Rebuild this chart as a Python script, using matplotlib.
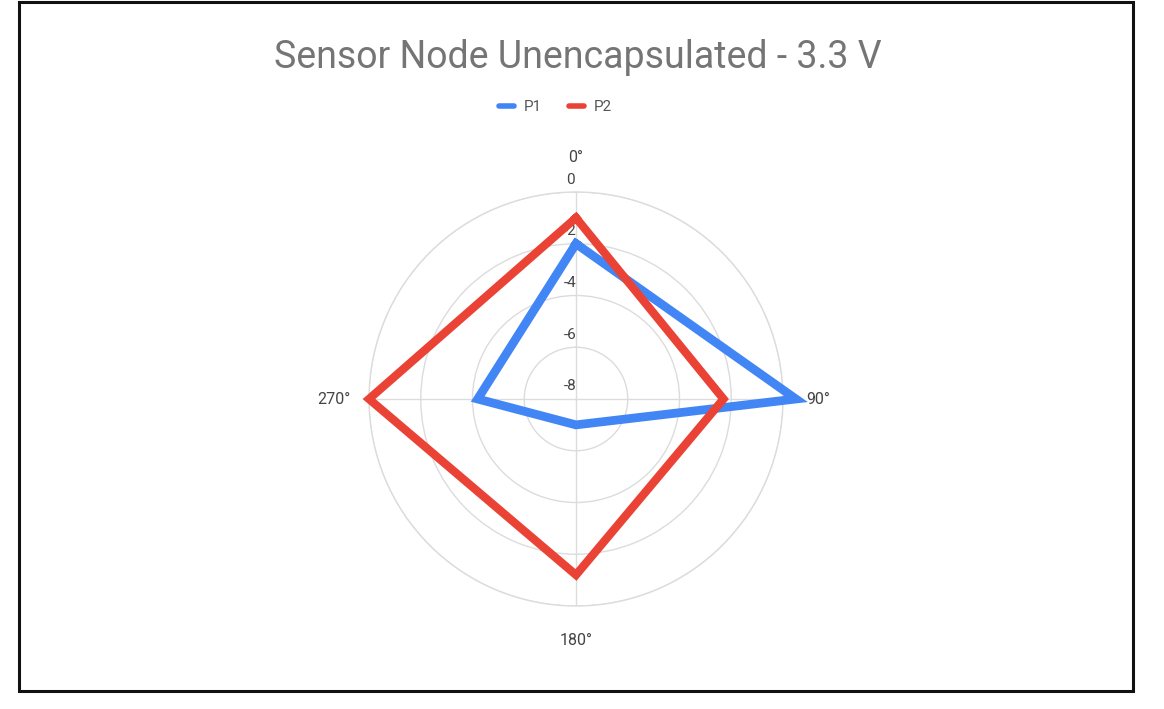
import numpy as np
import matplotlib.pyplot as plt
from matplotlib.patches import Rectangle

# ---- data ----
angles_deg = [0, 90, 180, 270]
angle_labels = ['0°', '90°', '180°', '270°']
p1 = [-2.0, 0.5, -7.0, -4.2]
p2 = [-1.0, -2.3, -1.2, 0.0]
r_ticks = [-8, -6, -4, -2, 0]
r_tick_labels = ['-8', '-6', '-4', '-2', '0']
title = 'Sensor Node Unencapsulated - 3.3 V'

blue = '#4285F4'
red = '#EA4335'
grid_col = '#dcdcdc'
plt.rcParams['font.family'] = ['Roboto', 'DejaVu Sans']

fig = plt.figure(figsize=(11.64, 7.09), dpi=100)
# frame round the whole chart
fig.patches.append(Rectangle((19 / 1164, 1 - 691 / 709), 1114 / 1164, 689 / 709,
                             transform=fig.transFigure, fill=False,
                             edgecolor='#111111', linewidth=2.2))

ax = fig.add_axes([369 / 1164, 1 - 606 / 709, 414 / 1164, 414 / 709], projection='polar')
ax.set_theta_zero_location('N')
ax.set_theta_direction(-1)
ax.set_ylim(-8, 0)

theta = np.deg2rad(angles_deg + [angles_deg[0]])
ax.plot(theta, p1 + [p1[0]], color=blue, lw=6.3, solid_joinstyle='miter',
        clip_on=False, zorder=3, label='P1')
ax.plot(theta, p2 + [p2[0]], color=red, lw=6.0, solid_joinstyle='miter',
        clip_on=False, zorder=4, label='P2')

# grid
ax.set_xticks(np.deg2rad(angles_deg))
ax.set_xticklabels([])
ax.set_yticks(r_ticks[1:])
ax.set_yticklabels([])
ax.grid(True, color=grid_col, lw=1.0)
ax.spines['polar'].set_color(grid_col)
ax.spines['polar'].set_linewidth(1.0)

# radial labels just above their rings, along the top spoke
for v, lab in zip(r_ticks, r_tick_labels):
    ax.annotate(lab, xy=(0, v), xytext=(-4, 9), textcoords='offset points',
                ha='center', va='center', fontsize=11, color='#444444', zorder=2)

# angle labels outside the rim
for a, lab in zip(angles_deg, angle_labels):
    ax.text(np.deg2rad(a), 1.35, lab, ha='center', va='center', fontsize=11.5,
            color='#444444', clip_on=False)

fig.text(0.496, 1 - 57 / 709, title, ha='center', va='center',
         fontsize=27, color='#757575')
leg = fig.legend(loc='center', bbox_to_anchor=(0.477, 1 - 107 / 709), ncol=2,
                 frameon=False, fontsize=11, handlelength=1.0, handletextpad=0.6,
                 columnspacing=1.8, labelcolor='#555555')
for ln in leg.get_lines():
    ln.set_linewidth(4)
    ln.set_solid_capstyle('round')

fig.savefig('out.png', dpi=100)
